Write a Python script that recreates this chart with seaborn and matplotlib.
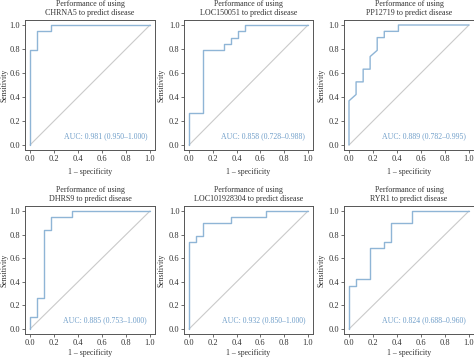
import numpy as np
import pandas as pd
import seaborn as sns
import matplotlib.pyplot as plt

# ROC curve corner points (17 controls, 19 cases)
genes = ["CHRNA5", "LOC150051", "PP12719", "DHRS9", "LOC101928304", "RYR1"]
auc_text = ["AUC: 0.981 (0.950\u20131.000)", "AUC: 0.858 (0.728\u20130.988)",
            "AUC: 0.889 (0.782\u20130.995)", "AUC: 0.885 (0.753\u20131.000)",
            "AUC: 0.932 (0.850\u20131.000)", "AUC: 0.824 (0.688\u20130.960)"]

fpr_chrna5 = [0, 0, 0.059, 0.059, 0.176, 0.176, 1]
tpr_chrna5 = [0, 0.789, 0.789, 0.947, 0.947, 1, 1]

fpr_loc150051 = [0, 0, 0.118, 0.118, 0.294, 0.294, 0.353, 0.353, 0.412, 0.412, 0.471, 0.471, 1]
tpr_loc150051 = [0, 0.263, 0.263, 0.789, 0.789, 0.842, 0.842, 0.895, 0.895, 0.947, 0.947, 1, 1]

fpr_pp12719 = [0, 0, 0.059, 0.059, 0.118, 0.118, 0.176, 0.176, 0.235, 0.235, 0.294, 0.294, 0.412, 0.412, 1]
tpr_pp12719 = [0, 0.368, 0.421, 0.526, 0.526, 0.632, 0.632, 0.737, 0.789, 0.895, 0.895, 0.947, 0.947, 1, 1]

fpr_dhrs9 = [0, 0, 0.059, 0.059, 0.118, 0.118, 0.176, 0.176, 0.353, 0.353, 1]
tpr_dhrs9 = [0, 0.105, 0.105, 0.263, 0.263, 0.842, 0.842, 0.947, 0.947, 1, 1]

fpr_loc101928304 = [0, 0, 0.059, 0.059, 0.118, 0.118, 0.353, 0.353, 0.647, 0.647, 1]
tpr_loc101928304 = [0, 0.737, 0.737, 0.789, 0.789, 0.895, 0.895, 0.947, 0.947, 1, 1]

fpr_ryr1 = [0, 0, 0.059, 0.059, 0.176, 0.176, 0.294, 0.294, 0.353, 0.353, 0.529, 0.529, 1]
tpr_ryr1 = [0, 0.368, 0.368, 0.421, 0.421, 0.684, 0.684, 0.737, 0.737, 0.895, 0.895, 1, 1]

fprs = [fpr_chrna5, fpr_loc150051, fpr_pp12719, fpr_dhrs9, fpr_loc101928304, fpr_ryr1]
tprs = [tpr_chrna5, tpr_loc150051, tpr_pp12719, tpr_dhrs9, tpr_loc101928304, tpr_ryr1]

sns.set_style("ticks")
plt.rcParams["font.family"] = ["Liberation Serif", "DejaVu Serif"]
plt.rcParams["axes.unicode_minus"] = False

W, H = 474, 358
fig = plt.figure(figsize=(W / 100, H / 100), dpi=100)

# pixel positions of data 0 and 1 in each panel
col_x = [(30, 150), (189, 308), (349, 469)]
row_y = [(145, 25), (329, 211)]
ylab_off = [16.5, 19, 19]  # px from left spine to "Sensitivity"

curve_col = "#8fb5d6"
diag_col = "#cacaca"
axis_col = "#555555"
text_col = "#6f9ec9"
label_col = "#333333"

for i, gene in enumerate(genes):
    r, c = divmod(i, 3)
    x0, x1 = col_x[c]
    y0, y1 = row_y[r]
    pad = 0.04
    ux = x1 - x0
    uy = y0 - y1
    w_px = ux * (1 + 2 * pad)
    left = (x0 - pad * ux) / W
    bottom = 1 - (y0 + pad * uy) / H
    ax = fig.add_axes([left, bottom, w_px / W, uy * (1 + 2 * pad) / H])

    df = pd.DataFrame({"fpr": fprs[i], "tpr": tprs[i]})
    ax.plot([0, 1], [0, 1], color=diag_col, lw=0.8)
    sns.lineplot(data=df, x="fpr", y="tpr", sort=False, estimator=None,
                 color=curve_col, lw=1.0, ax=ax)

    ax.set_xlim(-pad, 1 + pad)
    ax.set_ylim(-pad, 1 + pad)
    ticks = np.arange(0, 1.01, 0.2)
    ax.set_xticks(ticks)
    ax.set_yticks(ticks)
    ax.set_xticklabels([f"{t:.1f}" for t in ticks])
    ax.set_yticklabels([f"{t:.1f}" for t in ticks])
    ax.tick_params(labelsize=6.0, length=2, width=0.6, color=axis_col,
                   labelcolor=label_col, pad=1.5)
    for s in ax.spines.values():
        s.set_color(axis_col)
        s.set_linewidth(0.7)
    ax.set_xlabel("1 \u2013 specificity", fontsize=5.6, color=label_col,
                  labelpad=4 if r == 0 else 1.5)
    ax.set_ylabel("Sensitivity", fontsize=5.6, color=label_col)
    ax.yaxis.set_label_coords(-ylab_off[c] / w_px, 0.5)
    ax.set_title("Performance of using\n" + gene + " to predict disease",
                 fontsize=5.8, color=label_col, pad=3.5, linespacing=1.25)
    ax.text(0.975, 0.075, auc_text[i], ha="right", va="center",
            fontsize=5.6, color=text_col)

fig.savefig("out.png", dpi=100)
